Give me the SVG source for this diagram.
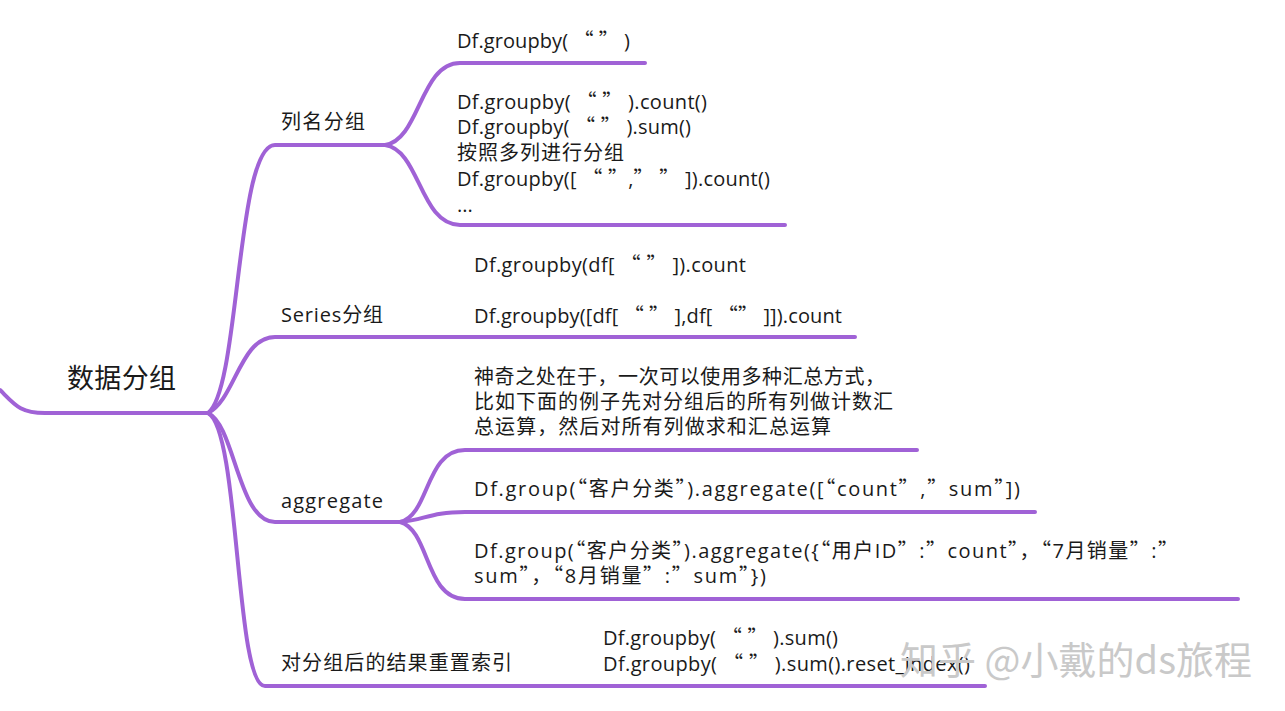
<svg xmlns="http://www.w3.org/2000/svg" width="1285" height="711" viewBox="0 0 1285 711">
<style>
.ln{fill:none;stroke:#a062d6;stroke-width:4;stroke-linecap:round}
text{font-family:"Open Sans","Noto Sans CJK SC",sans-serif;fill:#1a1a1a;font-size:20px}
.q{font-family:"Noto Sans CJK SC",sans-serif}
.root{font-size:27px}
.wm{font-size:38px;fill:#c9c9c9;font-family:"Noto Sans CJK SC",sans-serif}
</style>
<rect width="1285" height="711" fill="#ffffff"/>
<g id="connectors">
<path class="ln" d="M0,390 C15,405 20,413 45,413 L208,413"/>
<path class="ln" d="M208,413 C240,390 236,145 275,145 L385,145"/>
<path class="ln" d="M385,145 C420,140 420,63 460,63 L645,63"/>
<path class="ln" d="M385,145 C420,150 420,225 460,225 L785,225"/>
<path class="ln" d="M208,413 C235,400 240,337 275,337 L855,337"/>
<path class="ln" d="M208,413 C235,425 238,522 275,522 L400,522"/>
<path class="ln" d="M400,522 C430,515 425,450 465,450 L917,450"/>
<path class="ln" d="M400,522 C425,520 430,512 465,512 L1035,512"/>
<path class="ln" d="M400,522 C430,530 425,599 465,599 L1238,599"/>
<path class="ln" d="M208,413 C240,430 235,686 265,686 L985,686"/>
</g>
<g id="root"><text class="root" x="67" y="388" textLength="109">数据分组</text></g>
<g id="n-liemings"><text x="281" y="129" textLength="84">列名分组</text></g>
<g id="n-groupby1"><text x="457" y="48" textLength="173">Df.groupby( <tspan class="q">“</tspan> <tspan class="q">”</tspan> )</text></g>
<g id="n-groupby2">
<text x="457" y="109" textLength="250">Df.groupby( <tspan class="q">“</tspan> <tspan class="q">”</tspan> ).count()</text>
<text x="457" y="134" textLength="234">Df.groupby( <tspan class="q">“</tspan> <tspan class="q">”</tspan> ).sum()</text>
<text x="457" y="160" textLength="167">按照多列进行分组</text>
<text x="457" y="186" textLength="313">Df.groupby([ <tspan class="q">“</tspan> <tspan class="q">”</tspan>,<tspan class="q">”</tspan> <tspan class="q">”</tspan> ]).count()</text>
<text x="457" y="212">...</text>
</g>
<g id="n-series"><text x="281" y="322" textLength="102">Series分组</text></g>
<g id="n-series1">
<text x="474" y="272" textLength="272">Df.groupby(df[ <tspan class="q">“</tspan> <tspan class="q">”</tspan> ]).count</text>
<text x="474" y="323" textLength="368">Df.groupby([df[ <tspan class="q">“</tspan> <tspan class="q">”</tspan> ],df[ <tspan class="q">“”</tspan> ]]).count</text>
</g>
<g id="n-aggregate"><text x="281" y="508" textLength="102">aggregate</text></g>
<g id="n-agg1">
<text x="474" y="384" textLength="411">神奇之处在于，一次可以使用多种汇总方式，</text>
<text x="474" y="409" textLength="419">比如下面的例子先对分组后的所有列做计数汇</text>
<text x="474" y="434" textLength="357">总运算，然后对所有列做求和汇总运算</text>
</g>
<g id="n-agg2"><text x="474" y="496" textLength="546">Df.group(<tspan class="q">“</tspan>客户分类<tspan class="q">”</tspan>).aggregate([<tspan class="q">“</tspan>count<tspan class="q">”</tspan>,<tspan class="q">”</tspan>sum<tspan class="q">”</tspan>])</text></g>
<g id="n-agg3">
<text x="474" y="558" textLength="704">Df.group(<tspan class="q">“</tspan>客户分类<tspan class="q">”</tspan>).aggregate({<tspan class="q">“</tspan>用户ID<tspan class="q">”</tspan>:<tspan class="q">”</tspan>count<tspan class="q">”</tspan>，<tspan class="q">“</tspan>7月销量<tspan class="q">”</tspan>:<tspan class="q">”</tspan></text>
<text x="474" y="583" textLength="292">sum<tspan class="q">”</tspan>，<tspan class="q">“</tspan>8月销量<tspan class="q">”</tspan>:<tspan class="q">”</tspan>sum<tspan class="q">”</tspan>})</text>
</g>
<g id="n-reset"><text x="281" y="670" textLength="231">对分组后的结果重置索引</text></g>
<g id="n-reset1">
<text x="603" y="645" textLength="235">Df.groupby( <tspan class="q">“</tspan> <tspan class="q">”</tspan> ).sum()</text>
<text x="603" y="671" textLength="367">Df.groupby( <tspan class="q">“</tspan> <tspan class="q">”</tspan> ).sum().reset_index()</text>
</g>
<g id="watermark"><text class="wm" x="900" y="674" textLength="352">知乎 @小戴的ds旅程</text></g>
</svg>
